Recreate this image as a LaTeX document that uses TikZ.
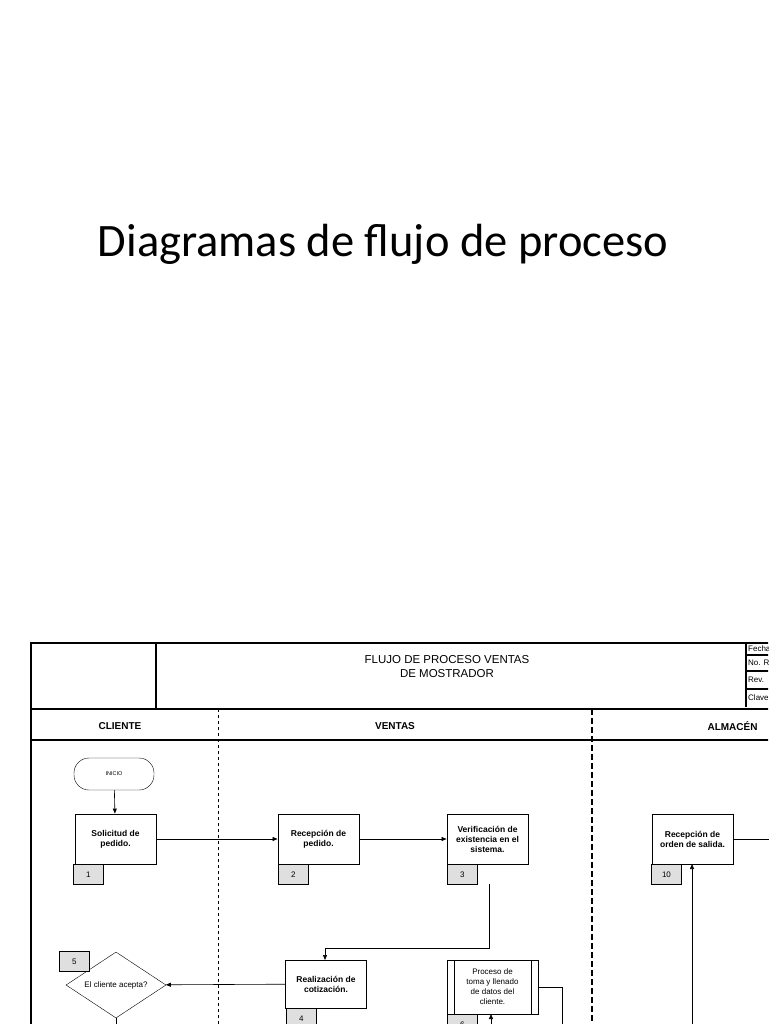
\documentclass[tikz,border=0pt]{standalone}
\usepackage{fontspec}
\setmainfont{Liberation Sans}
\newfontfamily\titlefont{Carlito}
\usetikzlibrary{arrows.meta,shapes.geometric}
\begin{document}
\begin{tikzpicture}[x=1pt,y=-1pt,
  box/.style={draw,line width=0.9pt,fill=white,minimum width=81pt,minimum height=50pt,align=center,font=\fontsize{8.5}{10}\selectfont\bfseries,inner sep=2pt},
  num/.style={draw,line width=0.9pt,fill=gray!25,minimum width=30pt,minimum height=20pt,font=\fontsize{8}{9}\selectfont,inner sep=0pt},
  arr/.style={-{Triangle[length=5pt,width=4pt]},line width=0.6pt},
  ln/.style={line width=0.6pt},
  thick frame/.style={line width=2.2pt},
  lane/.style={font=\fontsize{10}{12}\selectfont\bfseries}]
\useasboundingbox (0,0) rectangle (768,1024);
\fill[white] (0,0) rectangle (768,1024);
\node[font=\titlefont\fontsize{46.5}{50}\selectfont] (title) at (383,244) {Diagramas de flujo de proceso};
% frame
\begin{scope}
\clip (0,0) rectangle (768,1024);
\draw[thick frame] (31,1030) -- (31,643) -- (780,643);
\draw[thick frame] (31,709) -- (780,709);
\draw[thick frame] (31,740) -- (780,740);
\draw[thick frame] (156,643) -- (156,709);
\draw[line width=1.2pt] (746,643) -- (746,707);
\foreach \y in {655,671,689} \draw[line width=1.2pt] (746,\y) -- (780,\y);
\node[anchor=west,font=\fontsize{8}{9}\selectfont,inner sep=1pt] (f1) at (747,649) {Fecha};
\node[anchor=west,font=\fontsize{8}{9}\selectfont,inner sep=1pt] (f2) at (747,663) {No. Rev};
\node[anchor=west,font=\fontsize{8}{9}\selectfont,inner sep=1pt] (f3) at (747,680) {Rev.};
\node[anchor=west,font=\fontsize{8}{9}\selectfont,inner sep=1pt] (f4) at (747,698) {Clave};
\node[lane,anchor=west] (la) at (704,726) {ALMACÉN};
\end{scope}
\node[align=center,font=\fontsize{11.5}{14}\selectfont] (hdr) at (447,667) {FLUJO DE PROCESO VENTAS\\DE MOSTRADOR};
\draw[dashed,line width=0.6pt] (218,709) -- (218,1024);
\draw[dashed,line width=1.2pt,dash pattern=on 6pt off 3pt] (592,709) -- (592,1024);
\node[lane] (lc) at (120,726) {CLIENTE};
\node[lane] (lv) at (395,726) {VENTAS};
% nodes
\node[draw,rounded corners=15pt,minimum width=80pt,minimum height=32pt,font=\fontsize{5.5}{6}\selectfont,line width=0.4pt] (inicio) at (114,774) {INICIO};
\node[box] (b1) at (115.5,839) {Solicitud de\\pedido.};
\node[num,anchor=north west] (n1) at (73,864) {1};
\node[box] (b2) at (318.5,839) {Recepción de\\pedido.};
\node[num,anchor=north west] (n2) at (278,864) {2};
\node[box] (b3) at (487.5,839) {Verificación de\\existencia en el\\sistema.};
\node[num,anchor=north west] (n3) at (447,864) {3};
\node[box] (b10) at (692.5,839) {Recepción de\\orden de salida.};
\node[num,anchor=north west] (n10) at (651,864) {10};
\node[box,minimum height=48pt] (b4) at (326,984) {Realización de\\cotización.};
\node[num,anchor=north west] (n4) at (286,1008) {4};
\node[draw,diamond,aspect=1.5,minimum width=100pt,minimum height=66pt,line width=0.4pt,inner sep=0pt,font=\fontsize{8}{9}\selectfont] (d5) at (116,985) {El cliente acepta?};
\node[num,anchor=north west] (n5) at (59,951) {5};
\node[box,minimum width=91pt,minimum height=54pt,font=\fontsize{8}{10}\selectfont] (b6) at (492.5,987) {Proceso de\\toma y llenado\\de datos del\\cliente.};
\draw[line width=0.9pt] (454,960) -- (454,1014) (531,960) -- (531,1014);
\node[num,anchor=north west] (n6) at (447,1014) {6};
% connectors
\draw[arr] (489,884) -- (489,948) -- (325,948) -- (325,960);
\draw[arr] (inicio) -- (b1);
\draw[arr] (b1) -- (b2);
\draw[arr] (b2) -- (b3);
\draw[ln] (b10.east) -- (775,839);
\draw[arr] (b4) -- (d5);
\coordinate (bot5) at (116,1024);
\draw[ln] (d5.south) -- (bot5);
\coordinate (r6) at (562,1024);
\draw[ln] (b6.east) -- (562,987) -- (r6);
\coordinate (bot6) at (491,1024);
\draw[arr] (bot6) -- (491,1014);
\coordinate (bot10) at (692,1024);
\draw[arr] (bot10) -- (692,864);
\end{tikzpicture}
\end{document}
